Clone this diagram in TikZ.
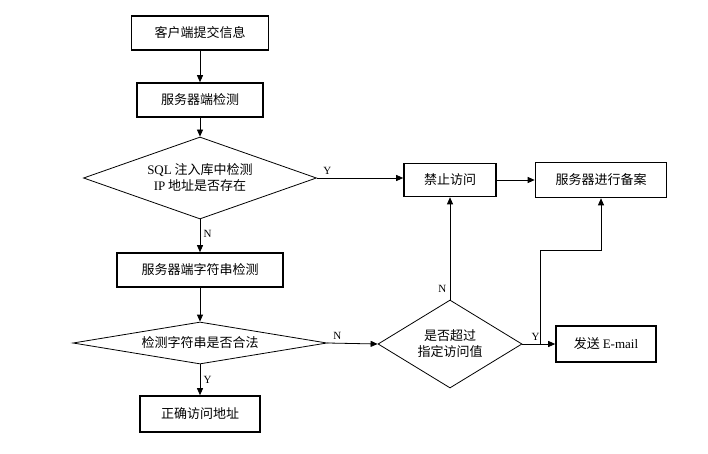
\documentclass[tikz,border=0pt]{standalone}
\usepackage{fontspec}
\setmainfont{Liberation Serif}
\newfontfamily\cjk{Noto Sans CJK SC}
\usetikzlibrary{shapes.geometric,arrows.meta}
\begin{document}
\begin{tikzpicture}[x=1pt,y=-1pt,
  box/.style={draw,line width=1.6pt,minimum height=34pt,inner sep=0pt,font=\cjk\fontsize{13}{15}\selectfont},
  dia/.style={draw,line width=0.8pt,diamond,aspect=#1,inner sep=0pt,align=center,font=\cjk\fontsize{13}{16}\selectfont},
  arr/.style={line width=0.8pt,-{Triangle[length=7pt,width=6pt]}},
  lab/.style={font=\fontsize{11}{13}\selectfont}]
\useasboundingbox (0,0) rectangle (708,454);
\node[box,minimum width=137pt] (a) at (200,33) {客户端提交信息};
\node[box,minimum width=126pt] (b) at (200,100) {服务器端检测};
\node[dia=2.84,minimum width=233pt,minimum height=82pt] (d1) at (200,178) {{\fontspec{Liberation Serif}SQL} 注入库中检测\\{\fontspec{Liberation Serif}IP} 地址是否存在};
\node[box,minimum width=166pt] (c) at (200,270) {服务器端字符串检测};
\node[dia=6.05,minimum width=254pt,minimum height=42pt] (d2) at (200,343) {检测字符串是否合法};
\node[box,minimum width=120pt,minimum height=36pt] (e) at (200,414) {正确访问地址};
\node[box,minimum width=92pt,minimum height=33pt] (f) at (450,180) {禁止访问};
\node[box,minimum width=131pt,minimum height=35pt] (g) at (601,180) {服务器进行备案};
\node[dia=1.64,minimum width=144pt,minimum height=88pt] (d3) at (450,344) {是否超过\\指定访问值};
\node[box,minimum width=100pt,minimum height=36pt] (h) at (606,344) {发送 {\fontspec{Liberation Serif}E-mail}};
\coordinate (k1) at (540,344);
\coordinate (k2) at (540,250);
\coordinate (k3) at (601,250);
\draw[arr] (a) -- (b);
\draw[arr] (b) -- (d1);
\draw[arr] (d1) -- node[lab,right,pos=0.45]{N} (c);
\draw[arr] (c) -- (d2);
\draw[arr] (d2) -- node[lab,right]{Y} (e);
\draw[arr] (d1.east) -- node[lab,above,pos=0.12]{Y} (f.west |- d1.east);
\draw[arr] (f) -- (g);
\draw[arr] (d2.east) -- node[lab,above,pos=0.2]{N} (d3.west);
\draw[arr] (d3.north) -- node[lab,left,pos=0.1]{N} (f.south);
\draw[arr] (d3.east) -- node[lab,above,pos=0.4]{Y} (h.west);
\draw[arr] (k1) -- (k2) -- (k3) -- (g.south);
\end{tikzpicture}
\end{document}
